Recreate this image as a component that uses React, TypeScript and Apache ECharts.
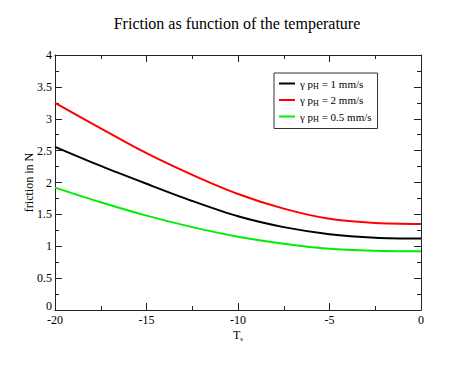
import React, { useEffect, useRef } from "react";
import * as echarts from "echarts";

const temps = [-20, -17.5, -15, -12.5, -10, -7.5, -5, -2.5, 0];
const friction1 = [2.56, 2.26, 1.98, 1.71, 1.47, 1.3, 1.19, 1.135, 1.12];
const friction2 = [3.25, 2.85, 2.46, 2.12, 1.82, 1.59, 1.43, 1.365, 1.35];
const friction05 = [1.92, 1.69, 1.48, 1.3, 1.15, 1.04, 0.96, 0.93, 0.92];
const seriesNames = ["1 mm/s", "2 mm/s", "0.5 mm/s"];
const seriesColors = ["#000000", "#ff0000", "#00ee00"];
const xTicks = [-20, -15, -10, -5, 0];
const yTicks = [0, 0.5, 1, 1.5, 2, 2.5, 3, 3.5, 4];

const FONT = "Liberation Serif";

export default function App() {
  const ref = useRef<HTMLDivElement>(null);
  useEffect(() => {
    if (!ref.current) return;
    const chart = echarts.init(ref.current, undefined, { renderer: "svg" });
    const values = [friction1, friction2, friction05];
    const axisLine = { show: true, onZero: false, lineStyle: { color: "#222", width: 1 } };
    const tick = { show: true, inside: true, length: 7, lineStyle: { color: "#222" } };
    const minor = { show: true, splitNumber: 2, length: 4, lineStyle: { color: "#222" } };
    chart.setOption({
      animation: false,
      title: {
        text: "Friction as function of the temperature",
        left: "center",
        top: 10,
        textStyle: { fontFamily: FONT, fontSize: 16, fontWeight: "normal", color: "#000" },
      },
      grid: { left: 55, right: 53, top: 55, bottom: 56 },
      legend: {
        orient: "vertical",
        left: 274,
        top: 73,
        icon: "rect",
        itemWidth: 16,
        itemHeight: 2,
        itemGap: 4,
        padding: [5, 6, 5, 5],
        borderColor: "#333",
        borderWidth: 1,
        backgroundColor: "#fff",
        data: seriesNames,
        formatter: (name: string) => `γ p{sub|H} = ${name}`,
        textStyle: {
          fontFamily: FONT,
          fontSize: 11,
          color: "#000",
          rich: {
            sub: { fontFamily: FONT, fontSize: 8, verticalAlign: "bottom", padding: [6, 0, 0, 0], color: "#000" },
          },
        },
      },
      xAxis: [
        {
          type: "value",
          min: -20,
          max: 0,
          interval: 5,
          name: "T{sub|s}",
          nameLocation: "middle",
          nameGap: 17,
          nameMoveOverlap: false,
          nameTextStyle: {
            fontFamily: FONT,
            fontSize: 12,
            color: "#000",
            verticalAlign: "top",
            rich: { sub: { fontFamily: FONT, fontSize: 7, padding: [8, 0, 0, 0], color: "#000" } },
          },
          axisLine,
          axisTick: tick,
          minorTick: minor,
          splitLine: { show: false },
          axisLabel: {
            fontFamily: FONT,
            fontSize: 12,
            color: "#000",
            margin: 4,
            customValues: xTicks,
          },
        },
        {
          type: "value",
          position: "top",
          min: -20,
          max: 0,
          interval: 5,
          axisLine,
          axisTick: tick,
          minorTick: minor,
          splitLine: { show: false },
          axisLabel: { show: false },
        },
      ],
      yAxis: [
        {
          type: "value",
          min: 0,
          max: 4,
          interval: 0.5,
          name: "friction in N",
          nameLocation: "middle",
          nameGap: 20,
          nameMoveOverlap: false,
          nameTextStyle: { fontFamily: FONT, fontSize: 12, color: "#000" },
          axisLine,
          axisTick: tick,
          minorTick: minor,
          splitLine: { show: false },
          axisLabel: {
            fontFamily: FONT,
            fontSize: 12,
            color: "#000",
            margin: 3,
            customValues: yTicks,
            formatter: (v: number) => (v === 0 ? "{z|0}" : String(v)),
            rich: { z: { fontFamily: FONT, fontSize: 12, color: "#000", padding: [0, 0, 9, 0] } },
          },
        },
        {
          type: "value",
          position: "right",
          min: 0,
          max: 4,
          interval: 0.5,
          axisLine,
          axisTick: tick,
          minorTick: minor,
          splitLine: { show: false },
          axisLabel: { show: false },
        },
      ],
      series: seriesNames.map((name, i) => ({
        name,
        type: "line",
        xAxisIndex: 0,
        yAxisIndex: 0,
        symbol: "none",
        smooth: 0.3,
        lineStyle: { color: seriesColors[i], width: 2 },
        itemStyle: { color: seriesColors[i] },
        data: temps.map((t, j) => [t, values[i][j]]),
      })),
    });
    return () => chart.dispose();
  }, []);
  return <div ref={ref} style={{ width: 474, height: 366, position: "absolute", left: 0, top: 0 }} />;
}
